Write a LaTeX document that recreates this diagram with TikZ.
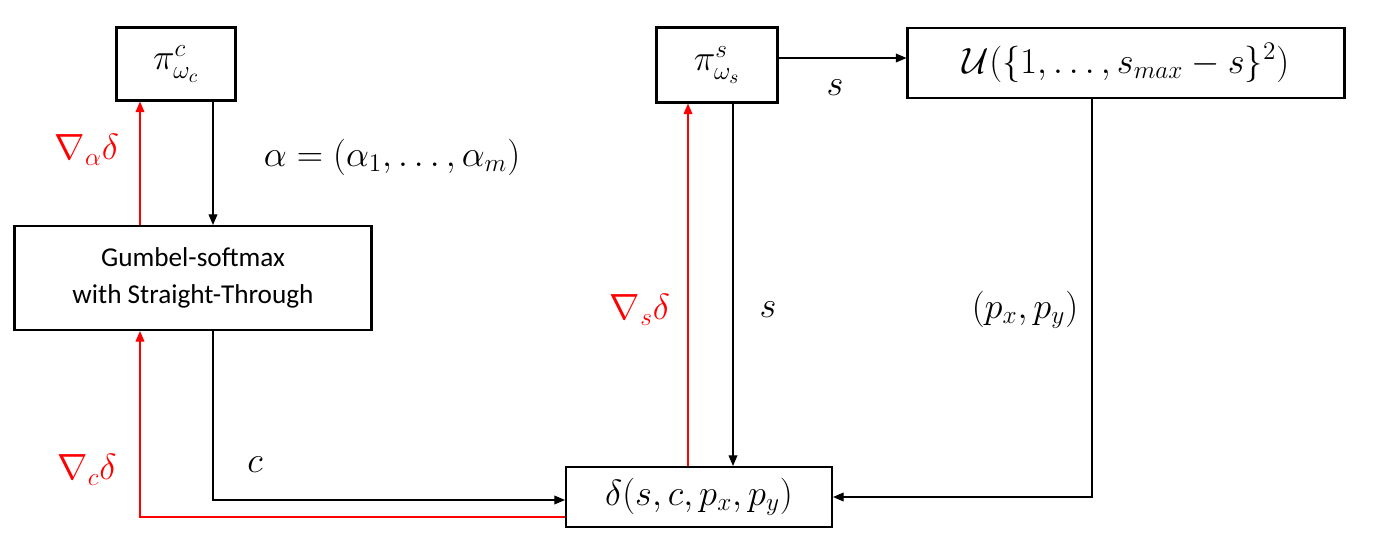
\documentclass[tikz,border=0pt]{standalone}
\usepackage{fontspec}
\setmainfont{Carlito}
\usepackage{amsmath}
\usetikzlibrary{arrows.meta}
\begin{document}
\begin{tikzpicture}[x=0.02cm,y=-0.02cm,
  box/.style={draw,line width=1.2pt,inner sep=0pt,font=\fontsize{21}{25}\selectfont},
  arr/.style={-{Triangle[length=6pt,width=5pt]},line width=0.6pt},
  red arr/.style={arr,red},
  lab/.style={font=\fontsize{21}{25}\selectfont}]
\useasboundingbox (0,0) rectangle (1380,547);
\node[box,minimum width=119*0.02cm,minimum height=73*0.02cm] (pic) at (176,64) {$\pi^{c}_{\omega_c}$};
\node[box,minimum width=121*0.02cm,minimum height=75*0.02cm] (pis) at (717,65) {$\pi^{s}_{\omega_s}$};
\node[box,minimum width=437*0.02cm,minimum height=70*0.02cm] (U) at (1126,63) {$\mathcal{U}(\{1,\ldots,s_{max}-s\}^2)$};
\node[box,minimum width=357*0.02cm,minimum height=104*0.02cm,align=center,font=\fontsize{15.5}{21}\selectfont] (G) at (193,278) {Gumbel-softmax\\with Straight-Through};
\node[box,minimum width=266*0.02cm,minimum height=60*0.02cm] (d) at (699,497) {$\delta(s,c,p_x,p_y)$};
% arrows
\draw[arr] (pic.south -| 213,0) -- (G.north -| 213,0);
\draw[red arr] (G.north -| 140,0) -- (pic.south -| 140,0);
\coordinate (c1) at (213,500);
\draw[arr] (G.south -| 213,0) -- (c1) -- (d.west |- c1);
\coordinate (c2) at (140,517);
\draw[red arr] (d.west |- c2) -- (c2) -- (G.south -| 140,0);
\draw[arr] (pis.east |- 0,58) -- (U.west |- 0,58);
\draw[arr] (pis.south -| 733,0) -- (d.north -| 733,0);
\draw[red arr] (d.north -| 688,0) -- (pis.south -| 688,0);
\coordinate (c3) at (1092,497);
\draw[arr] (U.south -| 1092,0) -- (c3) -- (d.east);
% labels
\node[lab] (la) at (392,157) {$\alpha=(\alpha_1,\ldots,\alpha_m)$};
\node[lab,text=red] (lga) at (87,150) {$\nabla_{\alpha}\delta$};
\node[lab] (lc) at (255,465) {$c$};
\node[lab,text=red] (lgc) at (87,470) {$\nabla_{c}\delta$};
\node[lab] (ls1) at (835,88) {$s$};
\node[lab] (ls2) at (768,310) {$s$};
\node[lab,text=red] (lgs) at (640,310) {$\nabla_{s}\delta$};
\node[lab] (lp) at (1025,310) {$(p_x,p_y)$};
\end{tikzpicture}
\end{document}
